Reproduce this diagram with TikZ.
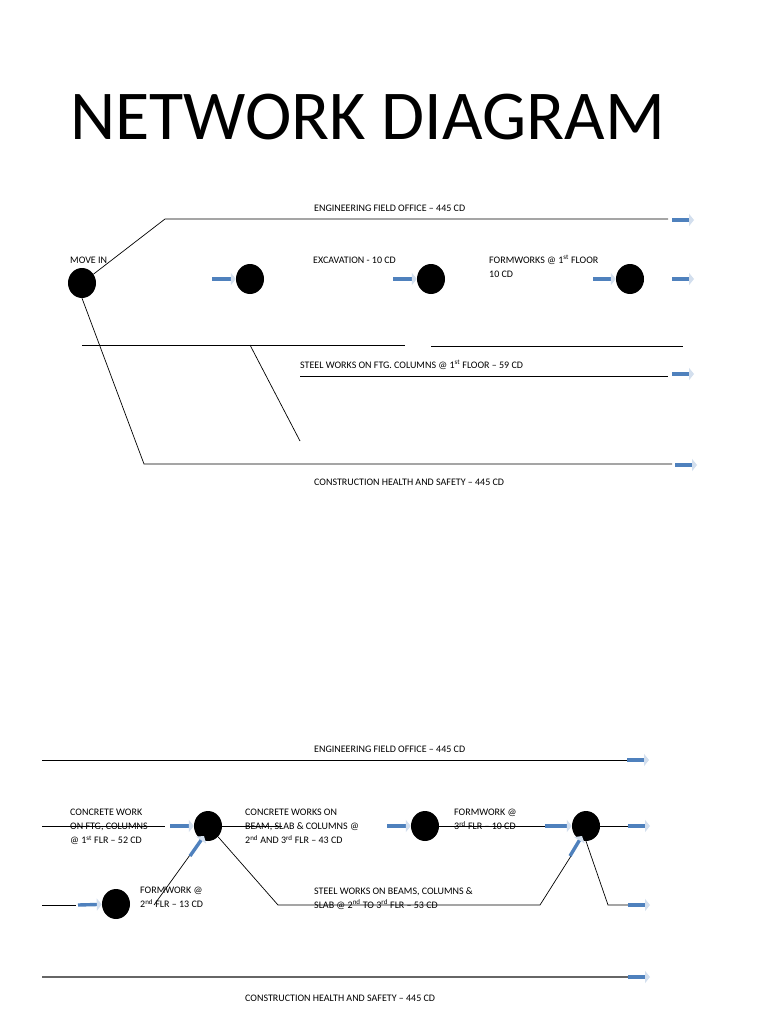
\documentclass[tikz,border=0pt]{standalone}
\usepackage{fontspec}
\setmainfont{Carlito}
\usetikzlibrary{shapes.geometric,arrows.meta}
\definecolor{barblue}{RGB}{79,129,189}
\begin{document}
\begin{tikzpicture}[x=1pt,y=-1pt,
  dot/.style={ellipse,fill=black,minimum width=28pt,minimum height=30pt,inner sep=0pt},
  lbl/.style={anchor=base west,font=\fontsize{10}{14}\selectfont,align=left,inner sep=0pt},
  mlbl/.style={lbl,anchor=north west},
  ln/.style={draw=black,line width=0.7pt},
  barr/.style={draw=barblue,line width=3.4pt,-{Triangle[length=5pt,width=12pt,color=barblue!25]}}]
\useasboundingbox[fill=white] (0,0) rectangle (768,1024);
\node[anchor=base west,font=\fontsize{70}{72}\selectfont,inner sep=0pt] (title) at (70,140) {NETWORK DIAGRAM};
% ---------- top diagram
\node[dot] (n1) at (82,283) {};
\node[dot] (n2) at (250,279) {};
\node[dot] (n3) at (431,279) {};
\node[dot] (n4) at (630,279) {};
\node[lbl] (t1) at (314,212) {ENGINEERING FIELD OFFICE – 445 CD};
\node[lbl] (t2) at (70,263) {MOVE IN};
\node[lbl] (t3) at (313,263) {EXCAVATION - 10 CD};
\node[mlbl] (t4) at (489,255) {FORMWORKS @ 1\textsuperscript{st} FLOOR\\10 CD};
\node[lbl] (t5) at (300,368) {STEEL WORKS ON FTG. COLUMNS @ 1\textsuperscript{st} FLOOR – 59 CD};
\node[lbl] (t6) at (314,485) {CONSTRUCTION HEALTH AND SAFETY – 445 CD};
\coordinate (a1) at (165,219); \coordinate (a2) at (668,219);
\coordinate (b1) at (82,345); \coordinate (b2) at (405,345);
\coordinate (b3) at (431,346); \coordinate (b4) at (683,346);
\coordinate (c1) at (250,345); \coordinate (c2) at (300,441);
\coordinate (d1) at (300,376); \coordinate (d2) at (668,376);
\coordinate (e1) at (144,464); \coordinate (e2) at (672,464);
\draw[ln] (n1) -- (a1) -- (a2);
\draw[ln] (b1) -- (b2); \draw[ln] (b3) -- (b4);
\draw[ln] (c1) -- (c2);
\draw[ln] (d1) -- (d2);
\draw[ln] (n1.south) -- (e1) -- (e2);
\coordinate (p1) at (672,220); \coordinate (q1) at (694,220);
\coordinate (p2) at (212,279); \coordinate (p3) at (393,279); \coordinate (p4) at (593,279);
\coordinate (p5) at (672,279); \coordinate (q5) at (694,279);
\coordinate (p6) at (672,374); \coordinate (q6) at (694,374);
\coordinate (p7) at (675,465); \coordinate (q7) at (697,465);
\draw[barr] (p1) -- (q1);
\draw[barr] (p2) -- (n2); \draw[barr] (p3) -- (n3); \draw[barr] (p4) -- (n4);
\draw[barr] (p5) -- (q5); \draw[barr] (p6) -- (q6); \draw[barr] (p7) -- (q7);
% ---------- bottom diagram
\node[dot] (m1) at (208,826) {};
\node[dot] (m2) at (425,826) {};
\node[dot] (m3) at (586,826) {};
\node[dot] (m4) at (116,904) {};
\node[lbl] (u1) at (314,752) {ENGINEERING FIELD OFFICE – 445 CD};
\node[mlbl] (u2) at (70,809) {CONCRETE WORK\\ON FTG, COLUMNS\\@ 1\textsuperscript{st} FLR – 52 CD};
\node[mlbl] (u3) at (245,809) {CONCRETE WORKS ON\\BEAM, SLAB \& COLUMNS @\\2\textsuperscript{nd} AND 3\textsuperscript{rd} FLR – 43 CD};
\node[mlbl] (u4) at (454,809) {FORMWORK @\\3\textsuperscript{rd} FLR – 10 CD};
\node[mlbl] (u5) at (140,887) {FORMWORK @\\2\textsuperscript{nd} FLR – 13 CD};
\node[mlbl] (u6) at (314,887) {STEEL WORKS ON BEAMS, COLUMNS \&\\SLAB @ 2\textsuperscript{nd} TO 3\textsuperscript{rd} FLR – 53 CD};
\node[lbl] (u7) at (245,1001) {CONSTRUCTION HEALTH AND SAFETY – 445 CD};
\coordinate (f1) at (42,760); \coordinate (f2) at (640,760);
\coordinate (g1) at (42,826); \coordinate (g2) at (165,826);
\coordinate (g3) at (282,826); \coordinate (g4) at (548,826); \coordinate (g5) at (632,826);
\coordinate (h1) at (42,905); \coordinate (h2) at (76,905);
\coordinate (h3) at (154,905); \coordinate (h4) at (190,855);
\coordinate (k1) at (278,905); \coordinate (k2) at (540,905); \coordinate (k3) at (571,856);
\coordinate (r1) at (608,905); \coordinate (r2) at (632,905);
\coordinate (s1) at (42,977); \coordinate (s2) at (633,977);
\draw[ln] (f1) -- (f2);
\draw[ln] (g1) -- (g2);
\draw[ln] (m1) -- (g3);
\draw[ln] (m2) -- (g4);
\draw[ln] (m3) -- (g5);
\draw[ln] (h1) -- (h2);
\draw[ln] (h3) -- (h4);
\draw[ln] (m1.south east) -- (k1) -- (k2) -- (k3);
\draw[ln] (m3.south) -- (r1) -- (r2);
\draw[draw=black!60,line width=1.5pt] (s1) -- (s2);
\coordinate (v1) at (627,760); \coordinate (w1) at (649,760);
\coordinate (v2) at (170,826); \coordinate (v4) at (387,826);
\coordinate (v5) at (545,826);
\coordinate (v6) at (628,826); \coordinate (w6) at (650,826);
\coordinate (v7) at (78,905);
\coordinate (v8) at (190,856); \coordinate (w8) at (204,836);
\coordinate (v9) at (570,856); \coordinate (w9) at (582,836);
\coordinate (v10) at (628,905); \coordinate (w10) at (650,905);
\coordinate (v11) at (628,977); \coordinate (w11) at (650,977);
\draw[barr] (v1) -- (w1);
\draw[barr] (v2) -- (m1); \draw[barr] (v4) -- (m2); \draw[barr] (v5) -- (m3);
\draw[barr] (v6) -- (w6);
\draw[barr] (v7) -- (m4);
\draw[barr] (v8) -- (w8); \draw[barr] (v9) -- (w9);
\draw[barr] (v10) -- (w10); \draw[barr] (v11) -- (w11);
\end{tikzpicture}
\end{document}
